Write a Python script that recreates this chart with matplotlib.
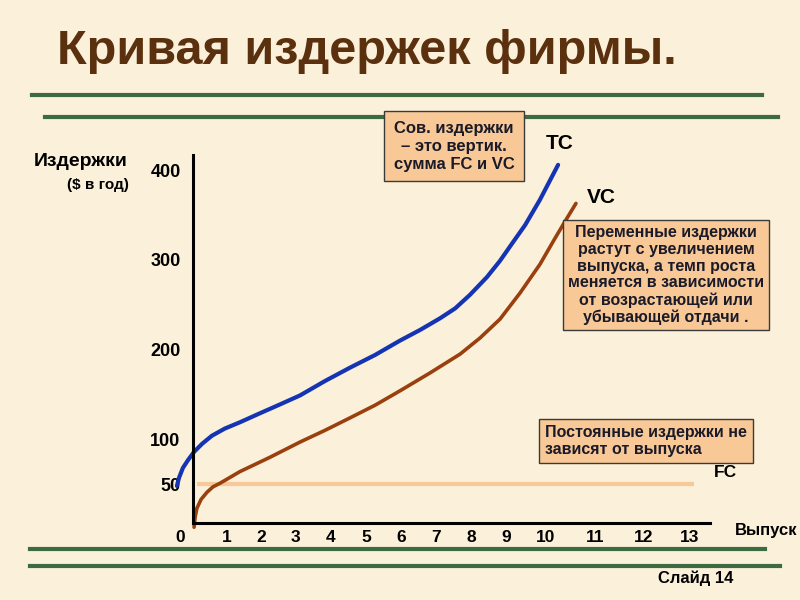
import matplotlib
matplotlib.use("Agg")
import matplotlib.pyplot as plt
from matplotlib.lines import Line2D

# данные (ось x - выпуск, ось y - издержки)
q_tc = [-0.46, -0.40, -0.29, -0.14, 0.03, 0.26, 0.54, 0.91, 1.34, 1.91, 2.49, 3.06, 3.77, 4.49,
        5.20, 5.91, 6.49, 7.06, 7.49, 7.91, 8.40, 8.77, 9.11, 9.49, 9.91, 10.43]
tc = [48, 57, 68, 77, 86, 95, 104, 112, 119, 129, 139, 149, 165, 180,
      194, 210, 222, 235, 246, 261, 281, 299, 318, 339, 367, 406]

q_vc = [0.03, 0.06, 0.11, 0.23, 0.40, 0.57, 0.77, 1.34, 2.20, 3.06, 3.77, 4.49, 5.20, 5.91,
        6.77, 7.63, 8.20, 8.77, 9.34, 9.91, 10.34, 10.66, 10.94]
vc = [2, 13, 23, 33, 41, 47, 51, 64, 80, 97, 110, 124, 138, 154,
      174, 195, 213, 234, 263, 295, 324, 345, 363]

q_fc = [0.1, 14.3]
fc = [50, 50]

yticks = [50, 100, 200, 300, 400]
xtick_pos = [-0.37, 0.97, 1.94, 2.94, 3.94, 4.94, 5.94, 6.94, 7.94, 8.94, 10.06, 11.49, 12.86, 14.2]
xtick_lab = [str(i) for i in range(14)]

bg = '#fbf0da'
sans = ['Liberation Sans', 'DejaVu Sans']
plt.rcParams['font.family'] = sans

fig = plt.figure(figsize=(8, 6), dpi=100, facecolor=bg)
ax = fig.add_axes([172/800, 77/600, 538/800, 368/600])
ax.set_facecolor(bg)

ax.plot(q_fc, fc, color='#f7c89a', lw=3, solid_capstyle='butt')
ax.plot(q_vc, vc, color='#9a3f0e', lw=2.6, solid_capstyle='round', solid_joinstyle='round', clip_on=False)
ax.plot(q_tc, tc, color='#1434b4', lw=3, solid_capstyle='round', solid_joinstyle='round', clip_on=False)

ax.set_xlim(-0.6, 14.77)
ax.set_ylim(6.7, 417)
ax.spines['top'].set_visible(False)
ax.spines['right'].set_visible(False)
ax.spines['left'].set_position(('data', 0))
ax.spines['bottom'].set_bounds(0, 14.77)
for s in ('left', 'bottom'):
    ax.spines[s].set_linewidth(2.2)
    ax.spines[s].set_color('black')

ax.set_yticks(yticks)
ax.set_yticklabels([str(v) for v in yticks])
ax.set_xticks(xtick_pos)
ax.set_xticklabels(xtick_lab)
ax.tick_params(axis='y', length=0, pad=9, labelsize=13)
ax.tick_params(axis='x', length=0, pad=5, labelsize=12.5)
for t in ax.get_xticklabels() + ax.get_yticklabels():
    t.set_fontweight('bold')

# подписи кривых
ax.text(10.49, 430, 'TC', fontsize=15, fontweight='bold', ha='center', va='center', clip_on=False)
ax.text(11.66, 370, 'VC', fontsize=15, fontweight='bold', ha='center', va='center', clip_on=False)
ax.text(15.2, 63, 'FC', fontsize=12.5, fontweight='bold', ha='center', va='center', clip_on=False)

fig.text(454/800, 1 - 146/600, 'Сов. издержки\n– это вертик.\nсумма FC и VC', fontsize=12, fontweight='bold',
         ha='center', va='center', linespacing=1.25, color='#1a1a28',
         bbox=dict(boxstyle='square,pad=0.55', facecolor='#f8c897', edgecolor='#3a3a3a', lw=1))
fig.text(666/800, 1 - 275/600, 'Переменные издержки\nрастут с увеличением\nвыпуска, а темп роста\n'
         'меняется в зависимости\nот возрастающей или\nубывающей отдачи .', fontsize=11.5, fontweight='bold',
         ha='center', va='center', linespacing=1.15, color='#1a1a28',
         bbox=dict(boxstyle='square,pad=0.3', facecolor='#f8c897', edgecolor='#3a3a3a', lw=1))
fig.text(545/800, 1 - 441/600, 'Постоянные издержки не\nзависят от выпуска', fontsize=11.5, fontweight='bold',
         ha='left', va='center', linespacing=1.15, color='#1a1a28',
         bbox=dict(boxstyle='square,pad=0.4', facecolor='#f8c897', edgecolor='#3a3a3a', lw=1))

# заголовок и подписи осей
fig.text(57/800, 1 - 52/600, 'Кривая издержек фирмы.', fontsize=35, fontweight='bold', color='#5a300e',
         ha='left', va='center')
fig.text(128/800, 1 - 162/600, 'Издержки', fontsize=14, fontweight='bold', ha='right', va='center')
fig.text(129/800, 1 - 185/600, '($ в год)', fontsize=11, fontweight='bold', ha='right', va='center')
fig.text(735/800, 1 - 530/600, 'Выпуск', fontsize=12, fontweight='bold', ha='left', va='center')
fig.text(733/800, 1 - 578/600, 'Слайд 14', fontsize=12, fontweight='bold', ha='right', va='center')

# зелёные линии слайда
green = '#3d6b3f'
for x0, x1, y in [(32, 762, 95), (45, 778, 117), (30, 765, 549), (30, 780, 566)]:
    fig.add_artist(Line2D([x0/800, x1/800], [1 - y/600, 1 - y/600], color=green, lw=3))

fig.savefig('out.png', dpi=100, facecolor=bg)
